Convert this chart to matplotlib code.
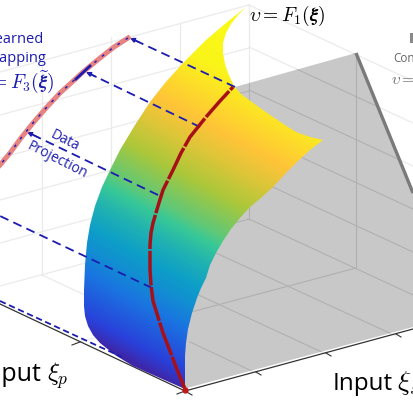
import numpy as np
import matplotlib
matplotlib.use('Agg')
import matplotlib.pyplot as plt
from matplotlib.colors import LinearSegmentedColormap
from matplotlib.patches import Polygon

plt.rcParams['mathtext.fontset'] = 'cm'

# everything in pixel coordinates
surf_left = [(185, 389), (160, 378), (133, 366), (115, 355), (100, 343), (93, 335), (88, 326), (85, 316), (84, 306),
             (84, 290), (85, 265), (87, 243), (90, 225), (95, 206), (102, 187), (110, 170), (120, 150), (135, 125),
             (150, 102), (165, 83), (183, 63), (206, 40), (226, 23), (246, 7)]
surf_top = [(238, 15), (231, 24), (226, 33), (223, 43), (223, 53), (225, 64), (228, 73), (234, 86), (241, 94),
            (249, 100), (260, 108), (273, 117), (285, 125), (296, 132), (310, 137), (323, 140)]
surf_right = [(310, 150), (299, 160), (286, 173), (273, 187), (262, 197), (249, 208), (240, 218), (231, 229),
              (223, 241), (216, 253), (210, 265), (206, 278), (201, 288), (197, 298), (192, 313), (188, 329),
              (186, 343), (185, 356), (185, 375)]

gray_plane = [(185, 390), (178, 250), (235, 87), (356, 53), (413, 193), (413, 327), (187, 388)]
gray_edge = [(356, 53), (413, 193)]

red_curve = [(185, 389), (180, 377), (176, 367), (170, 351), (163, 333), (158, 317), (153, 301), (151, 285), (150, 269),
             (150, 245), (151, 233), (153, 223), (158, 206), (163, 190), (173, 170), (181, 153), (190, 137), (198, 127),
             (206, 117), (220, 101), (233, 87)]
learned_curve = [(128, 38), (114, 47), (100, 58), (83, 72), (71, 83), (60, 93), (46, 108), (33, 123), (21, 138), (10, 153), (0, 165)]

proj_tail = [(235, 87), (200, 127), (158, 195), (152, 288)]
proj_head = [(130, 38), (86, 72), (27, 132), (0, 216)]

# colour against distance from the lower left edge
depth = [-420, -340, -300, -250, -210, -175, -140, -90, -45, -20, -8, 0]
level = [1.0, 0.98, 0.9, 0.8, 0.7, 0.62, 0.5, 0.38, 0.23, 0.15, 0.07, 0.0]

parula = LinearSegmentedColormap.from_list('parula', [
    (0.2422, 0.1504, 0.6603), (0.16, 0.25, 0.85), (0.10, 0.45, 0.88),
    (0.05, 0.62, 0.78), (0.2161, 0.7843, 0.5923), (0.6720, 0.7793, 0.2227),
    (0.9970, 0.7659, 0.2199), (0.9769, 0.9839, 0.0805)])

BLUE = '#1c1cb0'

fig = plt.figure(figsize=(4.13, 4.13), dpi=100)
ax = fig.add_axes([0, 0, 1, 1])
ax.set_xlim(0, 413)
ax.set_ylim(413, 0)
ax.axis('off')

# walls and floor
grid_lines = []
for y0 in [72, 115, 158, 200, 243, 286]:
    grid_lines.append(((0, y0), (249, y0 - 67)))
for y0 in [5, 47, 90, 133, 176, 219]:
    grid_lines.append(((249, y0), (413, y0 + 76)))
grid_lines += [((249, 5), (249, 219)), ((180, 24), (180, 237)), ((111, 37), (111, 256)), ((42, 60), (42, 275)),
               ((356, 53), (356, 268)), ((75, 343), (356, 268)),
               ((42, 275), (100, 302)), ((396, 336), (190, 241)), ((326, 354), (190, 291)), ((256, 373), (190, 342))]

for a, b in grid_lines:
    ax.plot([a[0], b[0]], [a[1], b[1]], color='#ebebeb', lw=0.9, zorder=1)

plane = Polygon(gray_plane, closed=True, fc='#c8c8c8', ec='none', zorder=2)
ax.add_patch(plane)
for a, b in grid_lines:
    ln, = ax.plot([a[0], b[0]], [a[1], b[1]], color='#b0b0b0', lw=0.8, zorder=3)
    ln.set_clip_path(plane)
ax.plot(*zip(*gray_edge), color='#7a7a7a', lw=2.4, zorder=3, solid_capstyle='butt')

# axes and ticks
ax.plot([185, 413], [391, 329], color='#333333', lw=0.9, zorder=4)
ax.plot([185, 0], [391, 304], color='#333333', lw=0.9, zorder=4)
for tx, ty in [(256, 372), (326, 353), (396, 334)]:
    ax.plot([tx, tx + 5], [ty, ty + 3], color='#333333', lw=0.8, zorder=4)
for tx, ty in [(80, 342), (185, 391)]:
    ax.plot([tx, tx - 8], [ty, ty + 3], color='#333333', lw=0.8, zorder=4)
ax.plot([185, 192], [391, 395], color='#333333', lw=0.8, zorder=4)

# surface: colour field clipped to the outline
xg, yg = np.meshgrid(np.arange(70, 340), np.arange(0, 400))
s = (yg - 390) - 0.55 * (xg - 185)
mesh = ax.pcolormesh(xg, yg, np.interp(s, depth, level), cmap=parula, vmin=0, vmax=1, shading='auto',
                     zorder=5, rasterized=True)
outline = Polygon(surf_left + surf_top + surf_right, closed=True, fc='none', ec='none', transform=ax.transData)
ax.add_patch(outline)
mesh.set_clip_path(outline)

# projection lines
for t, h in zip(proj_tail, proj_head):
    ax.plot([t[0], h[0]], [t[1], h[1]], color=BLUE, lw=1.3, ls=(0, (5, 3)), zorder=6)
    if h[0] > 0:
        ax.annotate('', xy=h, xytext=(h[0] + 0.9 * (t[0] - h[0]) / 10, h[1] + 0.9 * (t[1] - h[1]) / 10),
                    arrowprops=dict(arrowstyle='-|>', color=BLUE, lw=1, mutation_scale=7, shrinkA=0, shrinkB=0),
                    zorder=6)
ax.plot([0, 122], [301, 357], color=BLUE, lw=1.3, ls=(0, (3.5, 2)), zorder=6)

# red data line
ax.plot(*zip(*red_curve), color='#a81018', lw=2.5, zorder=7, ls=(0, (10, 0.5)), solid_capstyle='round')
ax.plot([185], [390], marker='o', ms=3.5, color='#c01818', zorder=7)

# learned mapping
ax.plot(*zip(*learned_curve), color='#e88383', lw=3.6, zorder=6)
ax.plot(*zip(*learned_curve), color=BLUE, lw=1.0, ls=(0, (2, 5)), zorder=7)
ax.plot([76, 90], [79, 66], color=BLUE, lw=2, zorder=7)

# labels
sans = 'Open Sans'
ax.text(44, 43, 'Learned', color=BLUE, fontsize=10.5, family=sans, ha='right', va='baseline')
ax.text(46, 62, 'Mapping', color=BLUE, fontsize=10.5, family=sans, ha='right', va='baseline')
ax.text(54, 88, r'$\upsilon=F_3(\widetilde{\boldsymbol{\xi}})$', color=BLUE, fontsize=14, ha='right', va='baseline')
ax.text(65, 141, 'Data', color=BLUE, fontsize=10, family=sans, rotation=-27, ha='center', va='center')
ax.text(57, 160, 'Projection', color=BLUE, fontsize=10, family=sans, rotation=-27, ha='center', va='center')
ax.text(249, 21, r'$\upsilon=F_1(\boldsymbol{\xi})$', color='black', fontsize=14, ha='left', va='baseline')
ax.text(393, 62, 'Conventional', color='#666666', fontsize=8.5, family=sans, ha='left', va='baseline')
ax.text(391, 84, r'$\upsilon=\xi$', color='#666666', fontsize=11, ha='left', va='baseline')
ax.add_patch(plt.Rectangle((410, 33), 10, 10, fc='#8a8a8a', ec='none', zorder=8))
ax.text(41, 381, 'Input', color='black', fontsize=18, family=sans, ha='right', va='baseline')
ax.text(47, 381, r'$\xi_p$', color='black', fontsize=18, ha='left', va='baseline')
ax.text(333, 390, 'Input', color='black', fontsize=17.5, family=sans, ha='left', va='baseline')
ax.text(397, 390, r'$\xi_s$', color='black', fontsize=20, ha='left', va='baseline')

fig.savefig('out.png', dpi=100)
